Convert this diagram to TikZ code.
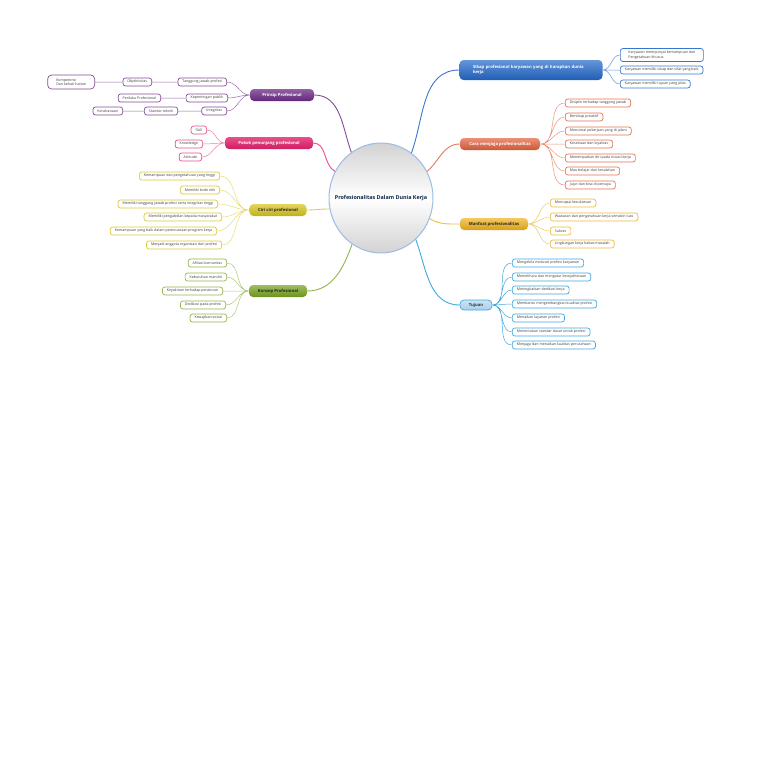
\documentclass[tikz,border=0pt]{standalone}
\usepackage{fontspec}
\setmainfont{Open Sans}
\usepackage{tikz}
\usetikzlibrary{positioning,shapes.geometric}

\definecolor{prinsip}{HTML}{6E2C86}
\definecolor{pokok}{HTML}{E5226E}
\definecolor{ciri}{HTML}{D6C41C}
\definecolor{konsep}{HTML}{77A31E}
\definecolor{sikap}{HTML}{2368C9}
\definecolor{cara}{HTML}{E1613C}
\definecolor{manfaat}{HTML}{EEB21C}
\definecolor{tujuan}{HTML}{3FA8DF}
\definecolor{tujuanfill}{HTML}{A9D0EC}

\begin{document}
\begin{tikzpicture}[x=1pt, y=-1pt]
\useasboundingbox (0,0) rectangle (768,772);
\tikzstyle{topic} = [rounded corners=4pt, inner xsep=3pt, inner ysep=0pt, minimum height=12pt, font=\fontsize{4.2}{5}\selectfont\bfseries, text=white]
\tikzstyle{leaf} = [draw, rounded corners=2.5pt, fill=white, line width=0.7pt, inner xsep=4.5pt, inner ysep=0pt, minimum height=8pt, font=\fontsize{3.6}{4.2}\selectfont, text=black!75]
\tikzstyle{link} = [line width=0.9pt]
\tikzstyle{twig} = [line width=0.5pt]

% centre
\node[ellipse, draw=sikap!45, line width=1pt, top color=gray!35, bottom color=gray!35, middle color=white, inner sep=0pt, minimum width=104pt, minimum height=110pt, label={[font=\fontsize{5.4}{6}\selectfont\bfseries, text=sikap!35!black]center:Profesionalitas Dalam Dunia Kerja}] (root) at (381,198) {};

% main topics
\node[topic, top color=prinsip!75!white, bottom color=prinsip!90!black, minimum width=64pt] (prinsip) at (282,95) {Prinsip Profesional};
\node[topic, top color=pokok!80!white, bottom color=pokok!90!black, minimum width=88pt] (pokok) at (269,143) {Pokok penunjang profesional};
\node[topic, top color=ciri!70!white, bottom color=ciri!90!black, minimum width=57pt, text=black!85] (ciri) at (278,210) {Ciri ciri profesional};
\node[topic, top color=konsep!70!white, bottom color=konsep!90!black, minimum width=58pt, text=black!85] (konsep) at (278,291) {Konsep Profesional};
\node[topic, top color=sikap!70!white, bottom color=sikap!90!black, minimum width=143pt, minimum height=20pt, text width=116pt, align=left] (sikap) at (531,70) {Sikap profesional karyawan yang di harapkan dunia kerja};
\node[topic, top color=cara!70!white, bottom color=cara!90!black, minimum width=80pt] (cara) at (500,144) {Cara menjaga profesionalitas};
\node[topic, top color=manfaat!70!white, bottom color=manfaat!90!black, minimum width=68pt, text=black!85] (manfaat) at (494,224) {Manfaat profesionalitas};
\node[topic, draw=tujuan, line width=0.7pt, top color=tujuanfill!60!white, bottom color=tujuanfill, minimum width=32pt, minimum height=10pt, text=black!80] (tujuan) at (476,305) {Tujuan};

\draw[link, prinsip!85] (root.123) to[out=110, in=0] (prinsip.east);
\draw[link, pokok!80] (root.150) to[out=150, in=0] (pokok.east);
\draw[link, ciri!80] (root.192) to[out=180, in=0] (ciri.east);
\draw[link, konsep!80] (root.238) to[out=250, in=0] (konsep.east);
\draw[link, sikap!90] (root.56) to[out=70, in=180] (sikap.west);
\draw[link, cara!85] (root.30) to[out=40, in=180] (cara.west);
\draw[link, manfaat!85] (root.337) to[out=330, in=180] (manfaat.west);
\draw[link, tujuan] (root.310) to[out=290, in=180] (tujuan.west);

% Prinsip Profesional
\tikzstyle{every node} = [leaf, draw=prinsip!85]
\node[anchor=east] (tanggung) at (227,82) {Tanggung jawab profesi};
\node[anchor=east] (publik) at (228,98) {Kepentingan publik};
\node[anchor=east] (integritas) at (227,111) {Integritas};
\node[anchor=east] (objektif) at (152,82) {Objektivitas};
\node[anchor=east, align=left, rounded corners=4pt, minimum height=14pt, minimum width=47pt] (kompetensi) at (95,82) {Kompetensi\\Dan kehati-hatian};
\node[anchor=east] (perilaku) at (161,98) {Perilaku Profesional};
\node[anchor=east] (standar) at (178,111) {Standar teknik};
\node[anchor=east] (rahasia) at (123,111) {Kerahasiaan};
\draw[twig, prinsip!70] (prinsip.west) to[out=180, in=0] (tanggung.east)
	(prinsip.west) to[out=180, in=0] (publik.east)
	(prinsip.west) to[out=180, in=0] (integritas.east)
	(tanggung) -- (objektif)
	(objektif) -- (kompetensi)
	(publik) -- (perilaku)
	(integritas) -- (standar)
	(standar) -- (rahasia);

% Pokok penunjang profesional
\tikzstyle{every node} = [leaf, draw=pokok!80]
\node[anchor=east] (skill) at (207,130) {Skill};
\node[anchor=east] (knowledge) at (203,144) {Knowledge};
\node[anchor=east] (attitude) at (202,157) {Attitude};
\draw[twig, pokok!60] (pokok.west) to[out=180, in=0] (skill.east)
	(pokok.west) to[out=180, in=0] (knowledge.east)
	(pokok.west) to[out=180, in=0] (attitude.east);

% Ciri ciri profesional
\tikzstyle{every node} = [leaf, draw=ciri!90]
\node[anchor=east] (ciri1) at (220,176) {Kemampuan dan pengetahuan yang tinggi};
\node[anchor=east] (ciri2) at (220,190) {Memiliki kode etik};
\node[anchor=east] (ciri3) at (218,204) {Memiliki tanggung jawab profesi serta integritas tinggi};
\node[anchor=east] (ciri4) at (222,217) {Memiliki pengabdian kepada masyarakat};
\node[anchor=east] (ciri5) at (217,231) {Kemampuan yang baik dalam perencanaan program kerja};
\node[anchor=east] (ciri6) at (222,245) {Menjadi anggota organisasi dari profesi};
\draw[twig, ciri!60] (ciri.west) to[out=180, in=0] (ciri1.east)
	(ciri.west) to[out=180, in=0] (ciri2.east)
	(ciri.west) to[out=180, in=0] (ciri3.east)
	(ciri.west) to[out=180, in=0] (ciri4.east)
	(ciri.west) to[out=180, in=0] (ciri5.east)
	(ciri.west) to[out=180, in=0] (ciri6.east);

% Konsep Profesional
\tikzstyle{every node} = [leaf, draw=konsep!80]
\node[anchor=east] (konsep1) at (227,263) {Afiliasi komunitas};
\node[anchor=east] (konsep2) at (227,277) {Kebutuhan mandiri};
\node[anchor=east] (konsep3) at (223,291) {Keyakinan terhadap peraturan};
\node[anchor=east] (konsep4) at (226,305) {Dedikasi pada profesi};
\node[anchor=east] (konsep5) at (227,318) {Kewajiban sosial};
\draw[twig, konsep!60] (konsep.west) to[out=180, in=0] (konsep1.east)
	(konsep.west) to[out=180, in=0] (konsep2.east)
	(konsep.west) to[out=180, in=0] (konsep3.east)
	(konsep.west) to[out=180, in=0] (konsep4.east)
	(konsep.west) to[out=180, in=0] (konsep5.east);

% Sikap profesional
\tikzstyle{every node} = [leaf, draw=sikap!90]
\node[anchor=west, align=left, minimum height=13pt, minimum width=83pt] (sikap1) at (620,55) {Karyawan mempunyai kemampuan dan\\Pengetahuan khusus};
\node[anchor=west] (sikap2) at (620,70) {Karyawan memiliki sikap dan sifat yang baik};
\node[anchor=west] (sikap3) at (620,84) {Karyawan memiliki tujuan yang jelas};
\draw[twig, sikap!70] (sikap.east) to[out=0, in=180] (sikap1.west)
	(sikap.east) to[out=0, in=180] (sikap2.west)
	(sikap.east) to[out=0, in=180] (sikap3.west);

% Cara menjaga profesionalitas
\tikzstyle{every node} = [leaf, draw=cara!90]
\node[anchor=west] (cara1) at (565,103) {Disiplin terhadap tanggung jawab};
\node[anchor=west] (cara2) at (565,117) {Bersikap proaktif};
\node[anchor=west] (cara3) at (565,131) {Mencintai pekerjaan yang di jalani};
\node[anchor=west] (cara4) at (565,144) {Kesetiaan dan loyalitas};
\node[anchor=west] (cara5) at (565,158) {Menempatkan diri pada situasi kerja};
\node[anchor=west] (cara6) at (565,171) {Mau belajar dari kesalahan};
\node[anchor=west] (cara7) at (565,185) {Jujur dan bisa di percaya};
\draw[twig, cara!70] (cara.east) to[out=0, in=180] (cara1.west)
	(cara.east) to[out=0, in=180] (cara2.west)
	(cara.east) to[out=0, in=180] (cara3.west)
	(cara.east) to[out=0, in=180] (cara4.west)
	(cara.east) to[out=0, in=180] (cara5.west)
	(cara.east) to[out=0, in=180] (cara6.west)
	(cara.east) to[out=0, in=180] (cara7.west);

% Manfaat profesionalitas
\tikzstyle{every node} = [leaf, draw=manfaat!90]
\node[anchor=west] (manfaat1) at (550,203) {Mencapai kesuksesan};
\node[anchor=west] (manfaat2) at (550,217) {Wawasan dan pengetahuan kerja semakin luas};
\node[anchor=west] (manfaat3) at (550,231) {Sukses};
\node[anchor=west] (manfaat4) at (550,244) {Lingkungan kerja bebas masalah};
\draw[twig, manfaat!70] (manfaat.east) to[out=0, in=180] (manfaat1.west)
	(manfaat.east) to[out=0, in=180] (manfaat2.west)
	(manfaat.east) to[out=0, in=180] (manfaat3.west)
	(manfaat.east) to[out=0, in=180] (manfaat4.west);

% Tujuan
\tikzstyle{every node} = [leaf, draw=tujuan]
\node[anchor=west] (tujuan1) at (512,263) {Mengelola motivasi profesi karyawan};
\node[anchor=west] (tujuan2) at (512,277) {Memelihara dan mengatur kesejahteraan};
\node[anchor=west] (tujuan3) at (512,290) {Meningkatkan dedikasi kerja};
\node[anchor=west] (tujuan4) at (512,304) {Membantu mengembangkan kualitas profesi};
\node[anchor=west] (tujuan5) at (512,318) {Menaikan layanan profesi};
\node[anchor=west] (tujuan6) at (512,332) {Menentukan standar dasar untuk profesi};
\node[anchor=west] (tujuan7) at (512,345) {Menjaga dan menaikan kualitas perusahaan};
\draw[twig, tujuan] (tujuan.east) to[out=0, in=180] (tujuan1.west)
	(tujuan.east) to[out=0, in=180] (tujuan2.west)
	(tujuan.east) to[out=0, in=180] (tujuan3.west)
	(tujuan.east) to[out=0, in=180] (tujuan4.west)
	(tujuan.east) to[out=0, in=180] (tujuan5.west)
	(tujuan.east) to[out=0, in=180] (tujuan6.west)
	(tujuan.east) to[out=0, in=180] (tujuan7.west);
\end{tikzpicture}
\end{document}
